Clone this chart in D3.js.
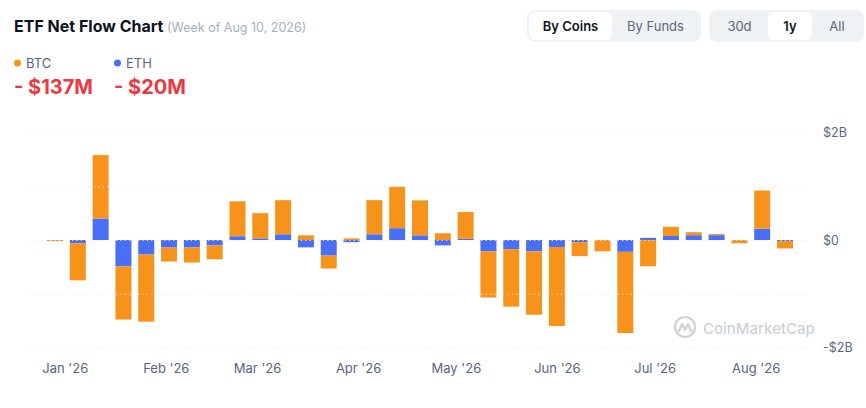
<!DOCTYPE html>
<html>
<head>
<meta charset="utf-8">
<script src="https://cdn.jsdelivr.net/npm/d3@7"></script>
<style>
  body { margin: 0; background: #fff; font-family: Inter, "Noto Sans", sans-serif; }
  svg text { font-family: Inter, "Noto Sans", sans-serif; }
</style>
</head>
<body>
<div id="chart"></div>
<script>
// weekly net flows, billions USD
var weeks = ['2025-12-29', '2026-01-05', '2026-01-12', '2026-01-19', '2026-01-26',
  '2026-02-02', '2026-02-09', '2026-02-16', '2026-02-23', '2026-03-02', '2026-03-09',
  '2026-03-16', '2026-03-23', '2026-03-30', '2026-04-06', '2026-04-13', '2026-04-20',
  '2026-04-27', '2026-05-04', '2026-05-11', '2026-05-18', '2026-05-25', '2026-06-01',
  '2026-06-08', '2026-06-15', '2026-06-22', '2026-06-29', '2026-07-06', '2026-07-13',
  '2026-07-20', '2026-07-27', '2026-08-03', '2026-08-10'];
var btc = [-0.02, -0.69, 1.18, -0.99, -1.25, -0.26, -0.28, -0.26, 0.65, 0.47, 0.635,
  0.087, -0.24, 0.03, 0.635, 0.77, 0.65, 0.125, 0.50, -0.86, -1.07, -1.18, -1.47,
  -0.26, -0.21, -1.51, -0.49, 0.17, 0.056, 0.02, -0.06, 0.71, -0.137];
var eth = [0, -0.06, 0.40, -0.49, -0.27, -0.14, -0.14, -0.10, 0.07, 0.03, 0.106,
  -0.137, -0.29, -0.04, 0.106, 0.22, 0.087, -0.10, 0.02, -0.21, -0.17, -0.21, -0.13,
  -0.04, 0, -0.22, 0.04, 0.075, 0.09, 0.09, 0, 0.21, -0.02];
var gridTicks = [-2, -1, 0, 1, 2];
var labelTicks = [-2, 0, 2];

var colors = {eth: '#4a6ff7', btc: '#f7931a'};

var width = 866, height = 408;
var parseDay = d3.timeParse('%Y-%m-%d');
var rows = weeks.map(function(w, i){
  return {date: parseDay(w), eth: eth[i], btc: btc[i]};
});

var svg = d3.select('#chart').append('svg')
  .attr('width', width)
  .attr('height', height);

// header
svg.append('text').attr('x', 14).attr('y', 32)
  .attr('fill', '#0d1421').style('font-size', '16px').style('font-weight', 700)
  .text('ETF Net Flow Chart');
svg.append('text').attr('x', 167).attr('y', 32)
  .attr('fill', '#a6b0c3').style('font-size', '12.5px')
  .text('(Week of Aug 10, 2026)');

var legend = [
  {name: 'BTC', color: colors.btc, value: '- $137M', x: 14},
  {name: 'ETH', color: colors.eth, value: '- $20M', x: 114}
];
var lg = svg.selectAll('g.legend').data(legend).enter().append('g')
  .attr('class', 'legend')
  .attr('transform', function(d){ return 'translate(' + d.x + ',0)'; });
lg.append('circle').attr('cx', 3.5).attr('cy', 63).attr('r', 3.5)
  .attr('fill', function(d){ return d.color; });
lg.append('text').attr('x', 12).attr('y', 67.5)
  .attr('fill', '#58667e').style('font-size', '13px')
  .text(function(d){ return d.name; });
lg.append('text').attr('x', 0).attr('y', 94)
  .attr('fill', '#ea3943').style('font-size', '20px').style('font-weight', 700)
  .text(function(d){ return d.value; });

// toggle buttons
var groups = [
  {x: 527, w: 174, items: [
    {label: 'By Coins', x: 529, w: 83, active: true},
    {label: 'By Funds', x: 612, w: 87, active: false}]},
  {x: 709, w: 155, items: [
    {label: '30d', x: 711, w: 57, active: false},
    {label: '1y', x: 768, w: 44, active: true},
    {label: 'All', x: 812, w: 50, active: false}]}
];
groups.forEach(function(g){
  svg.append('rect').attr('x', g.x).attr('y', 10).attr('width', g.w).attr('height', 32)
    .attr('rx', 8).attr('fill', '#eff2f5');
  g.items.forEach(function(it){
    if (it.active) {
      svg.append('rect').attr('x', it.x).attr('y', 12).attr('width', it.w).attr('height', 28)
        .attr('rx', 6).attr('fill', '#fff');
    }
    svg.append('text').attr('x', it.x + it.w / 2).attr('y', 30.5)
      .attr('text-anchor', 'middle')
      .attr('fill', it.active ? '#0d1421' : '#58667e')
      .style('font-size', '13px').style('font-weight', it.active ? 600 : 400)
      .text(it.label);
  });
});

// scales
var x = d3.scaleTime()
  .domain([rows[0].date, rows[rows.length - 1].date])
  .range([55, 785]);
var y = d3.scaleLinear().domain([-2, 2]).range([347.5, 132.5]);

var stack = d3.stack().keys(['eth', 'btc']).offset(d3.stackOffsetDiverging);
var series = stack(rows);

// watermark
var wm = svg.append('g').attr('transform', 'translate(685,327)');
wm.append('circle').attr('r', 10).attr('fill', 'none')
  .attr('stroke', '#cdd1d8').attr('stroke-width', 2.2);
wm.append('path').attr('d', 'M-6,4 L-3,-3 L0,3 L3,-3 L6,4')
  .attr('fill', 'none').attr('stroke', '#cdd1d8').attr('stroke-width', 2.2)
  .attr('stroke-linejoin', 'round').attr('stroke-linecap', 'round');
svg.append('text').attr('x', 703).attr('y', 334)
  .attr('fill', '#cdd1d8').style('font-size', '15px').style('font-weight', 500)
  .text('CoinMarketCap');

// bars
svg.append('g').selectAll('g').data(series).enter().append('g')
  .attr('fill', function(s){ return colors[s.key]; })
  .selectAll('rect').data(function(s){ return s; }).enter().append('rect')
  .attr('x', function(d){ return x(d.data.date) - 8; })
  .attr('width', 16)
  .attr('y', function(d){ return y(Math.max(d[0], d[1])); })
  .attr('height', function(d){ return Math.abs(y(d[0]) - y(d[1])); });

// grid lines drawn above bars
var grid = svg.append('g').attr('transform', 'translate(808,0)')
  .call(d3.axisRight(y).tickValues(gridTicks).tickSize(-780).tickFormat(''));
grid.select('.domain').remove();
grid.selectAll('line').attr('stroke', '#e6e9ee').attr('stroke-dasharray', '1.2,3.2');

var yAxis = svg.append('g').attr('transform', 'translate(823,0)')
  .call(d3.axisRight(y).tickValues(labelTicks).tickSize(0).tickPadding(0)
    .tickFormat(function(d){ return d === 0 ? '$0' : (d < 0 ? '-$' : '$') + Math.abs(d) + 'B'; }));
yAxis.select('.domain').remove();
yAxis.selectAll('text').attr('fill', '#58667e').style('font-size', '12.5px')
  .style('font-family', 'Inter, sans-serif');

var xAxis = svg.append('g').attr('transform', 'translate(0,361)')
  .call(d3.axisBottom(x).ticks(d3.timeMonth.every(1)).tickSize(0).tickPadding(0)
    .tickFormat(d3.timeFormat("%b '%y")));
xAxis.select('.domain').remove();
xAxis.selectAll('text').attr('fill', '#58667e').attr('dy', '0.9em').style('font-size', '13px')
  .style('font-family', 'Inter, sans-serif');
</script>
</body>
</html>
